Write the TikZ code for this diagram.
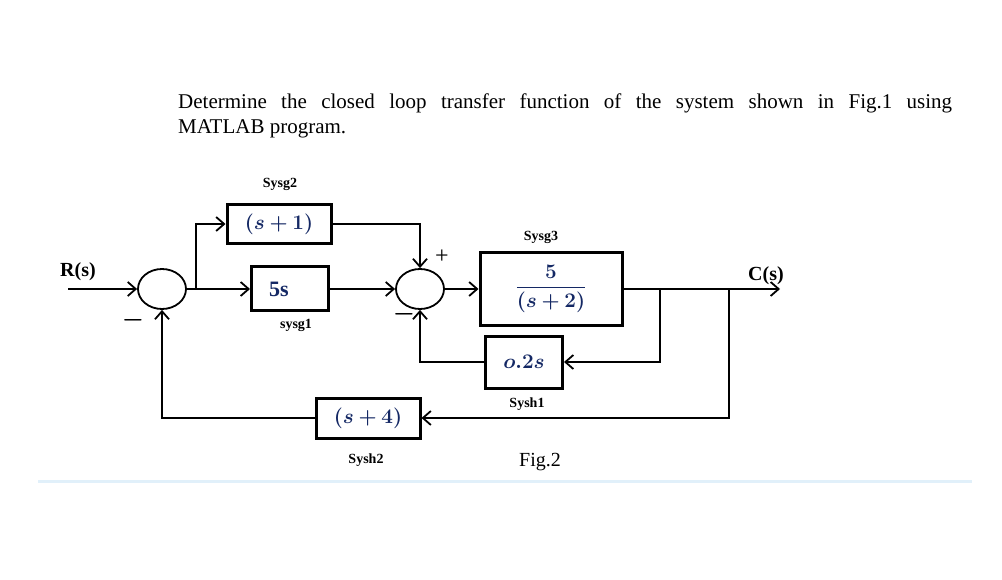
\documentclass[tikz,border=0pt]{standalone}
\usepackage{fontspec}
\setmainfont{Liberation Serif}
\usepackage{amsmath}
\usepackage{bm}
\usetikzlibrary{arrows.meta, calc, shapes.geometric}
\definecolor{mblue}{RGB}{20,40,100}
\definecolor{rule}{RGB}{225,240,250}
\newcommand{\blkfont}{\fontsize{22}{25}\selectfont\color{mblue}}
\tikzset{
  blk/.style={draw, line width=3pt, inner sep=0pt, font=\blkfont},
  sum/.style={draw, ellipse, line width=1.8pt, minimum width=48pt, minimum height=40pt, inner sep=0pt},
  sig/.style={line width=1.8pt, -{Straight Barb[length=8pt, width=14pt, line width=1.8pt]}},
  wire/.style={line width=1.8pt},
  tag/.style={font=\fontsize{14}{16}\selectfont\bfseries},
  sgn/.style={font=\fontsize{24}{24}\selectfont},
}
\begin{document}
\begin{tikzpicture}[x=1pt, y=-1pt]
  \useasboundingbox (0,0) rectangle (1002,580);
  % question text
  \node[anchor=north west, inner sep=0pt, text width=774pt, align=justify,
        font=\fontsize{21}{25}\selectfont] (q) at (178,94)
    {Determine the closed loop transfer function of the system shown in Fig.1 using\linebreak MATLAB program.};

  % blocks
  \node[sum] (s1) at (162,289) {};
  \node[sum] (s2) at (420,289) {};
  \node[blk, minimum width=104pt, minimum height=39pt] (g2) at (279,224) {$\bm{(s+1)}$};
  \node[blk, minimum width=77pt, minimum height=44pt] (g1) at (290,289) {\hspace*{-22pt}\textbf{5s}};
  \node[blk, minimum width=142pt, minimum height=72pt] (g3) at (551,289) {$\dfrac{\bm{5}}{\bm{(s+2)}}$};
  \node[blk, minimum width=77pt, minimum height=52pt] (h1) at (524,362) {$\bm{o.2s}$};
  \node[blk, minimum width=104pt, minimum height=40pt] (h2) at (368,418) {$\bm{(s+4)}$};

  % labels
  \node[tag] (lg2) at (280,184) {Sysg2};
  \node[tag] (lg1) at (296,325) {sysg1};
  \node[tag] (lg3) at (541,237) {Sysg3};
  \node[tag] (lh1) at (527,404) {Sysh1};
  \node[tag] (lh2) at (366,460) {Sysh2};
  \node[font=\fontsize{20}{22}\selectfont\bfseries] (r) at (78,272) {R(s)};
  \node[font=\fontsize{20}{22}\selectfont\bfseries] (c) at (766,276) {C(s)};
  \node[font=\fontsize{20}{22}\selectfont] (fig) at (540,462) {Fig.2};
  \node[sgn] (p2) at (442,257) {+};
  \node[sgn] (m2) at (404,314) {$\bm{-}$};
  \node[sgn] (m1) at (133,320) {$\bm{-}$};

  % coordinates
  \coordinate (in) at (68,289);
  \coordinate (out) at (780,289);
  \coordinate (b1) at (196,289);
  \coordinate (b2) at (660,289);
  \coordinate (b3) at (729,289);

  % forward path
  \draw[sig] (in) -- (s1.west);
  \draw[wire] (s1.east) -- (b1);
  \draw[sig] (b1) |- (g2.west);
  \draw[sig] (b1) -- (g1.west);
  \draw[sig] (g2.east) -| (s2.north);
  \draw[sig] (g1.east) -- (s2.west);
  \draw[sig] (s2.east) -- (g3.west);
  \draw[sig] (g3.east) -- (out);

  % feedback paths
  \draw[sig] (b2) |- (h1.east);
  \draw[sig] (h1.west) -| (s2.south);
  \draw[sig] (b3) |- (h2.east);
  \draw[sig] (h2.west) -| (s1.south);

  % bottom rule
  \draw[rule, line width=3pt] (38,481) -- (972,481);
\end{tikzpicture}
\end{document}
